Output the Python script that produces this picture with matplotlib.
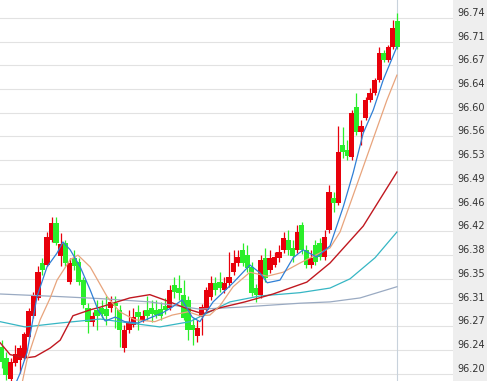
import numpy as np
import matplotlib
matplotlib.use("Agg")
import matplotlib.pyplot as plt

# OHLC (red = up, green = down)
opens = [96.241, 96.224, 96.192, 96.216, 96.221, 96.224, 96.256, 96.288, 96.315, 96.368,
         96.365, 96.403, 96.429, 96.379, 96.398, 96.339, 96.376, 96.370, 96.342, 96.300,
         96.279, 96.297, 96.300, 96.298, 96.300, 96.307, 96.297, 96.239, 96.267, 96.274,
         96.294, 96.282, 96.297, 96.300, 96.297, 96.298, 96.303, 96.300, 96.335, 96.330,
         96.320, 96.312, 96.274, 96.257, 96.286, 96.297, 96.317, 96.338, 96.339, 96.327,
         96.338, 96.354, 96.368, 96.388, 96.380, 96.362, 96.330, 96.320, 96.376, 96.358,
         96.365, 96.376, 96.388, 96.403, 96.391, 96.388, 96.426, 96.388, 96.365, 96.395,
         96.398, 96.377, 96.418, 96.467, 96.459, 96.547, 96.540, 96.529, 96.605, 96.567,
         96.588, 96.615, 96.626, 96.646, 96.687, 96.676, 96.696, 96.735]
closes = [96.218, 96.198, 96.218, 96.230, 96.239, 96.260, 96.295, 96.318, 96.354, 96.358,
          96.408, 96.429, 96.398, 96.397, 96.368, 96.368, 96.364, 96.339, 96.304, 96.279,
          96.288, 96.288, 96.291, 96.288, 96.309, 96.303, 96.267, 96.267, 96.279, 96.286,
          96.286, 96.288, 96.288, 96.291, 96.289, 96.288, 96.297, 96.327, 96.324, 96.323,
          96.285, 96.267, 96.267, 96.270, 96.301, 96.327, 96.338, 96.327, 96.330, 96.338,
          96.347, 96.368, 96.377, 96.368, 96.361, 96.323, 96.320, 96.373, 96.345, 96.376,
          96.377, 96.385, 96.406, 96.388, 96.379, 96.415, 96.388, 96.365, 96.376, 96.370,
          96.377, 96.408, 96.476, 96.459, 96.536, 96.536, 96.530, 96.596, 96.567, 96.576,
          96.615, 96.626, 96.646, 96.687, 96.676, 96.696, 96.725, 96.696]
highs = [96.251, 96.233, 96.224, 96.244, 96.244, 96.263, 96.300, 96.324, 96.364, 96.376,
         96.415, 96.438, 96.438, 96.414, 96.403, 96.376, 96.388, 96.376, 96.347, 96.307,
         96.294, 96.312, 96.312, 96.318, 96.318, 96.318, 96.304, 96.274, 96.297, 96.300,
         96.304, 96.297, 96.318, 96.312, 96.312, 96.309, 96.315, 96.335, 96.347, 96.350,
         96.342, 96.318, 96.285, 96.282, 96.306, 96.332, 96.348, 96.347, 96.354, 96.347,
         96.385, 96.388, 96.388, 96.398, 96.395, 96.370, 96.336, 96.380, 96.391, 96.388,
         96.385, 96.395, 96.415, 96.418, 96.403, 96.426, 96.430, 96.395, 96.388, 96.403,
         96.406, 96.418, 96.486, 96.476, 96.576, 96.574, 96.555, 96.600, 96.626, 96.585,
         96.620, 96.634, 96.649, 96.696, 96.691, 96.699, 96.737, 96.747]
lows = [96.209, 96.191, 96.189, 96.212, 96.201, 96.221, 96.254, 96.285, 96.312, 96.350,
        96.364, 96.400, 96.395, 96.364, 96.364, 96.336, 96.358, 96.335, 96.300, 96.262,
        96.273, 96.267, 96.285, 96.274, 96.294, 96.270, 96.241, 96.233, 96.262, 96.271,
        96.267, 96.279, 96.282, 96.279, 96.285, 96.282, 96.291, 96.297, 96.315, 96.312,
        96.282, 96.251, 96.244, 96.248, 96.259, 96.294, 96.312, 96.320, 96.324, 96.323,
        96.332, 96.350, 96.364, 96.364, 96.354, 96.318, 96.309, 96.315, 96.339, 96.353,
        96.362, 96.370, 96.383, 96.380, 96.370, 96.383, 96.382, 96.361, 96.361, 96.365,
        96.373, 96.373, 96.414, 96.445, 96.456, 96.527, 96.524, 96.524, 96.562, 96.547,
        96.585, 96.612, 96.623, 96.643, 96.673, 96.673, 96.693, 96.693]

# moving average lines, sampled along the candle index
ma5_x = [2.3, 4.1, 5.6, 7.8, 10.0, 12.2, 13.5, 15.1, 17.3, 19.5, 21.2, 22.8, 25.0, 27.1, 30.0,
         33.1, 35.3, 37.5, 39.7, 41.9, 43.6, 46.5, 50.9, 54.6, 56.8, 58.4, 61.2, 64.1, 66.3,
         69.3, 72.2, 75.1, 77.3, 79.5, 81.7, 83.9, 86.9]
ma5_y = [96.172, 96.201, 96.232, 96.317, 96.362, 96.383, 96.400, 96.388, 96.362, 96.327,
         96.297, 96.280, 96.286, 96.279, 96.277, 96.286, 96.292, 96.301, 96.312, 96.286,
         96.279, 96.309, 96.338, 96.365, 96.353, 96.338, 96.342, 96.376, 96.388, 96.377,
         96.394, 96.453, 96.505, 96.565, 96.600, 96.646, 96.696]
ma10_x = [4.1, 5.6, 8.5, 10.7, 12.2, 15.1, 16.8, 19.5, 23.2, 26.0, 29.3, 33.7, 37.5, 41.0,
          43.6, 45.8, 48.0, 50.9, 54.6, 58.4, 61.9, 65.6, 72.2, 74.4, 77.3, 81.0, 84.7, 86.9]
ma10_y = [96.172, 96.221, 96.282, 96.315, 96.342, 96.373, 96.380, 96.362, 96.317, 96.294,
          96.282, 96.279, 96.289, 96.294, 96.288, 96.289, 96.303, 96.332, 96.354, 96.348,
          96.354, 96.368, 96.391, 96.415, 96.471, 96.543, 96.615, 96.653]
ma20_x = [-0.3, 1.9, 5.2, 7.4, 10.7, 12.9, 15.7, 19.5, 21.7, 28.2, 32.6, 37.0, 41.4, 44.3,
          48.0, 53.5, 59.7, 67.1, 72.2, 79.5, 86.9]
ma20_y = [96.247, 96.229, 96.224, 96.226, 96.239, 96.251, 96.288, 96.297, 96.301, 96.315,
          96.320, 96.309, 96.297, 96.291, 96.300, 96.309, 96.321, 96.339, 96.368, 96.424, 96.506]
ma40_x = [-0.3, 5.2, 12.9, 21.7, 28.2, 34.8, 41.4, 45.8, 50.2, 56.8, 65.6, 72.2, 76.6, 82.1, 86.9]
ma40_y = [96.279, 96.271, 96.277, 96.283, 96.277, 96.271, 96.279, 96.294, 96.309, 96.318,
          96.323, 96.330, 96.344, 96.376, 96.415]
ma60_x = [-0.3, 12.9, 21.7, 32.6, 43.6, 52.4, 65.6, 72.2, 78.8, 86.9]
ma60_y = [96.321, 96.317, 96.314, 96.309, 96.298, 96.301, 96.307, 96.309, 96.315, 96.332]

ytick_labels = ["96.20", "96.24", "96.27", "96.31", "96.35", "96.38", "96.42", "96.46",
                "96.49", "96.53", "96.56", "96.60", "96.64", "96.67", "96.71", "96.74"]

fig = plt.figure(figsize=(4.87, 3.81), dpi=100, facecolor="#eeeeee")
ax = fig.add_axes([0, 0, 453 / 487, 1])
ax.set_facecolor("white")

o = np.array(opens)
c = np.array(closes)
h = np.array(highs)
l = np.array(lows)
x = np.arange(len(o))
up = c >= o
colors = np.where(up, "#e8000b", "#2aee2a")

# wicks then bodies
ax.vlines(x, l, h, colors=colors, linewidth=0.9, zorder=2)
body_bottom = np.minimum(o, c)
body_height = np.maximum(np.abs(c - o), 0.002)
ax.bar(x, body_height, bottom=body_bottom, width=1.15, color=colors, linewidth=0, zorder=3)

# moving averages
ax.plot(ma60_x, ma60_y, color="#9aaac2", lw=0.9, zorder=4)
ax.plot(ma40_x, ma40_y, color="#36b6c4", lw=0.9, zorder=4)
ax.plot(ma20_x, ma20_y, color="#c01820", lw=1.0, zorder=4)
ax.plot(ma10_x, ma10_y, color="#e8a47c", lw=0.9, zorder=4)
ax.plot(ma5_x, ma5_y, color="#2f7fd6", lw=0.9, zorder=4)

ax.axvline(len(o) - 1, color="#c8d2dc", lw=0.8, zorder=1)

ax.set_xlim(-0.33, 99.23)
ax.set_ylim(96.189, 96.767)

yticks = np.linspace(96.20, 96.74, len(ytick_labels))
ax.set_yticks(yticks)
ax.set_yticklabels(ytick_labels)
ax.yaxis.tick_right()
ax.tick_params(axis="y", length=0, pad=3, labelsize=7, labelcolor="#333333")
for lbl in ax.get_yticklabels():
    lbl.set_verticalalignment("bottom")
ax.set_xticks([])
ax.grid(axis="y", color="#e2e2e2", lw=0.8, zorder=0)
ax.set_axisbelow(True)
for s in ax.spines.values():
    s.set_visible(False)

plt.savefig("out.png", dpi=100, facecolor=fig.get_facecolor())
